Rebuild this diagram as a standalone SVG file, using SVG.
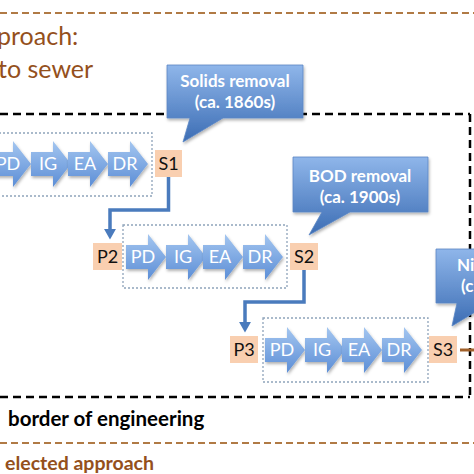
<svg xmlns="http://www.w3.org/2000/svg" xmlns:xlink="http://www.w3.org/1999/xlink" width="474" height="474" viewBox="0 0 474 474">
<style>
.brownline{stroke:#b07a45;stroke-width:2;stroke-dasharray:7,4;fill:none}
.blackline{stroke:#000;stroke-width:2.5;stroke-dasharray:8,5;fill:none}
.dotbox{fill:none;stroke:#8fa4bb;stroke-width:1.3;stroke-dasharray:2,2}
.pbox{fill:#f9cfb0}
.ptxt{font-family:Lato,'Open Sans',sans-serif;font-size:18px;fill:#111;text-anchor:middle}
.atxt{font-family:Lato,'Open Sans',sans-serif;font-size:18px;fill:#fff;text-anchor:middle}
.ctxt{font-family:Lato,'Open Sans',sans-serif;font-size:17px;font-weight:bold;fill:#fff;text-anchor:middle}
.conn{fill:none;stroke:#4a7bbd;stroke-width:3.5}
.brown{font-family:Lato,'Open Sans',sans-serif;fill:#94501c}
</style>
<defs>
<linearGradient id="ag" x1="0" y1="0" x2="0" y2="1">
<stop offset="0" stop-color="#a4c6f0"/>
<stop offset="1" stop-color="#5c8ed6"/>
</linearGradient>
<linearGradient id="cg" x1="0" y1="0" x2="0" y2="1">
<stop offset="0" stop-color="#8fb6ea"/>
<stop offset="1" stop-color="#3c6db4"/>
</linearGradient>
<filter id="sh" x="-10%" y="-10%" width="130%" height="140%">
<feDropShadow dx="1" dy="2" stdDeviation="1.5" flood-color="#000" flood-opacity="0.3"/>
</filter>
<path id="arr" d="M0,-12 H22 V-23 L40,0 L22,23 V12 H0 Z" fill="url(#ag)" filter="url(#sh)"/>
<marker id="ah" markerWidth="4" markerHeight="4" refX="2" refY="2" orient="auto" markerUnits="strokeWidth">
<path d="M0,0.3 L3,2 L0,3.7 Z" fill="#4a7bbd"/>
</marker>
</defs>
<rect width="474" height="474" fill="#fff"/>

<g id="frame">
<line class="brownline" x1="0" y1="13" x2="474" y2="13"/>
<text class="brown" x="-3" y="45" font-size="25">proach:</text>
<text class="brown" x="-2" y="78" font-size="25">to sewer</text>
<line class="blackline" x1="0" y1="114" x2="470" y2="114"/>
<line class="blackline" x1="470" y1="114" x2="470" y2="397"/>
<line class="blackline" x1="0" y1="397" x2="470" y2="397"/>
<text x="8" y="426" font-family="Lato,'Open Sans',sans-serif" font-size="20.5" font-weight="bold" fill="#000">border of engineering</text>
<line class="brownline" x1="0" y1="443" x2="474" y2="443"/>
<text class="brown" x="5" y="470" font-size="19.5" font-weight="bold">elected approach</text>
</g>

<g id="boxes">
<rect class="dotbox" x="-13" y="133" width="165" height="63"/>
<rect class="dotbox" x="123" y="225" width="164" height="63"/>
<rect class="dotbox" x="263" y="318" width="165" height="64"/>
</g>

<g id="connectors">
<path class="conn" d="M168.5,177 V210 H110 V236" marker-end="url(#ah)"/>
<path class="conn" d="M304,270 V302 H245 V329" marker-end="url(#ah)"/>
<path d="M460,350 H474" stroke="#a0602a" stroke-width="3" fill="none"/>
</g>

<g id="row1">
<g id="r1-pd"><use href="#arr" x="-9" y="164"/><text class="atxt" x="8" y="170">PD</text></g>
<g id="r1-ig"><use href="#arr" x="31" y="164"/><text class="atxt" x="48" y="170">IG</text></g>
<g id="r1-ea"><use href="#arr" x="68" y="164"/><text class="atxt" x="85" y="170">EA</text></g>
<g id="r1-dr"><use href="#arr" x="108" y="164"/><text class="atxt" x="125" y="170">DR</text></g>
<g id="s1"><rect class="pbox" x="155" y="150" width="27" height="27"/><text class="ptxt" x="168.5" y="170">S1</text></g>
</g>

<g id="row2">
<g id="p2"><rect class="pbox" x="93" y="243" width="29" height="27"/><text class="ptxt" x="107.5" y="263">P2</text></g>
<g id="r2-pd"><use href="#arr" x="126" y="257"/><text class="atxt" x="143" y="263">PD</text></g>
<g id="r2-ig"><use href="#arr" x="166" y="257"/><text class="atxt" x="183" y="263">IG</text></g>
<g id="r2-ea"><use href="#arr" x="203" y="257"/><text class="atxt" x="220" y="263">EA</text></g>
<g id="r2-dr"><use href="#arr" x="243" y="257"/><text class="atxt" x="260" y="263">DR</text></g>
<g id="s2"><rect class="pbox" x="290" y="243" width="28" height="27"/><text class="ptxt" x="304" y="263">S2</text></g>
</g>

<g id="row3">
<g id="p3"><rect class="pbox" x="230" y="336" width="28" height="27"/><text class="ptxt" x="244" y="356">P3</text></g>
<g id="r3-pd"><use href="#arr" x="265" y="350"/><text class="atxt" x="282" y="356">PD</text></g>
<g id="r3-ig"><use href="#arr" x="305" y="350"/><text class="atxt" x="322" y="356">IG</text></g>
<g id="r3-ea"><use href="#arr" x="342" y="350"/><text class="atxt" x="359" y="356">EA</text></g>
<g id="r3-dr"><use href="#arr" x="382" y="350"/><text class="atxt" x="399" y="356">DR</text></g>
<g id="s3"><rect class="pbox" x="429" y="336" width="28" height="27"/><text class="ptxt" x="443" y="356">S3</text></g>
</g>

<g id="callout-solids">
<path d="M167,65 H303 V118 H223 L183,142 L190,118 H167 Z" fill="url(#cg)" stroke="#5a86c4" stroke-width="0.8" filter="url(#sh)"/>
<text class="ctxt" x="235" y="87">Solids removal</text>
<text class="ctxt" x="235" y="108">(ca. 1860s)</text>
</g>

<g id="callout-bod">
<path d="M293,157 H428 V212 H350 L309,235 L322,212 H293 Z" fill="url(#cg)" stroke="#5a86c4" stroke-width="0.8" filter="url(#sh)"/>
<text class="ctxt" x="360" y="182">BOD removal</text>
<text class="ctxt" x="360" y="203">(ca. 1900s)</text>
</g>

<g id="callout-n">
<path d="M436,249 H484 V303 H490 L452,326 L457,303 H436 Z" fill="url(#cg)" stroke="#5a86c4" stroke-width="0.8" filter="url(#sh)"/>
<text class="ctxt" x="457" y="271" style="text-anchor:start">Ni</text>
<text class="ctxt" x="461" y="292" style="text-anchor:start">(c</text>
</g>
</svg>
